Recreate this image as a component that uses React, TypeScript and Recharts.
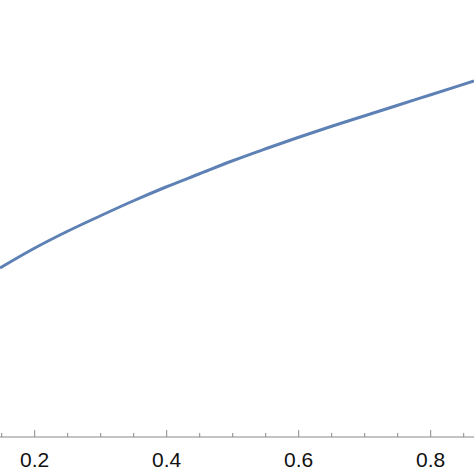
import { LineChart, Line, XAxis, YAxis } from 'recharts';

// x positions of the sampled curve
const xs = [0.1474, 0.1974, 0.2474, 0.2989, 0.3489, 0.3989, 0.4489, 0.4989, 0.5489, 0.5989, 0.6489, 0.6989, 0.7489, 0.7989, 0.8656];
// curve height (arbitrary units)
const ys = [169, 188, 205, 221, 236, 250, 263, 276, 288, 299.5, 310.5, 321, 331.5, 342, 356];

const majorTicks = [0.2, 0.4, 0.6, 0.8];
const allTicks = [0.15, 0.2, 0.25, 0.3, 0.35, 0.4, 0.45, 0.5, 0.55, 0.6, 0.65, 0.7, 0.75, 0.8, 0.85];

const data = xs.map((x, i) => ({ x, y: ys[i] }));

function Tick(props: any) {
  const { x, y, payload } = props;
  const v = payload.value;
  const isMajor = majorTicks.some((m) => Math.abs(m - v) < 1e-6);
  return (
    <g>
      <line x1={x} x2={x} y1={y} y2={y - (isMajor ? 7 : 4)} stroke="#888" strokeWidth={1} />
      {isMajor && (
        <text x={x} y={y + 30} textAnchor="middle" fontSize={21} fill="#111" fontFamily="Liberation Sans, Arial, sans-serif">
          {v.toFixed(1)}
        </text>
      )}
    </g>
  );
}

export default function App() {
  return (
    <div style={{ position: 'absolute', left: 0, top: 0, background: '#fff' }}>
      <LineChart width={474} height={474} data={data} margin={{ top: 0, right: 0, bottom: 0, left: 0 }}>
        <XAxis
          dataKey="x"
          type="number"
          domain={[0.1474, 0.8656]}
          ticks={allTicks}
          tick={<Tick />}
          tickLine={false}
          tickSize={0}
          tickMargin={0}
          height={37}
          axisLine={{ stroke: '#888', strokeWidth: 1 }}
          allowDataOverflow
          interval={0}
        />
        <YAxis type="number" domain={[0, 437]} hide />
        <Line type="monotone" dataKey="y" stroke="#5E81B5" strokeWidth={3} dot={false} activeDot={false} isAnimationActive={false} />
      </LineChart>
    </div>
  );
}
